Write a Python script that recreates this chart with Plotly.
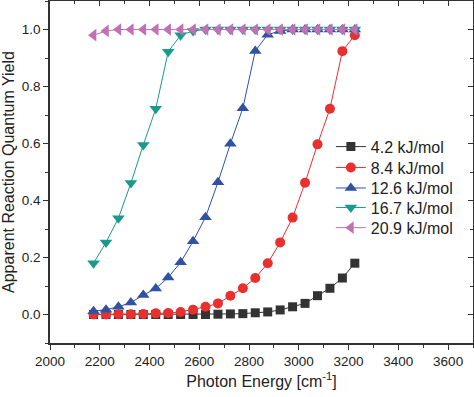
import plotly.graph_objects as go

energy = [2175, 2225, 2275, 2325, 2375, 2425, 2475, 2525, 2575, 2625, 2675,
          2725, 2775, 2825, 2875, 2925, 2975, 3025, 3075, 3125, 3175, 3225]

y_42 = [0.0, 0.0, 0.0, 0.0, 0.0, 0.0, 0.0, 0.0, 0.0, 0.0, 0.001,
        0.002, 0.003, 0.006, 0.009, 0.016, 0.027, 0.039, 0.066, 0.092, 0.128, 0.18]
y_84 = [0.0, 0.0, 0.001, 0.001, 0.002, 0.004, 0.005, 0.009, 0.017, 0.027, 0.039,
        0.066, 0.092, 0.128, 0.18, 0.253, 0.34, 0.462, 0.597, 0.722, 0.924, 0.98]
y_126 = [0.011, 0.017, 0.027, 0.042, 0.068, 0.091, 0.13, 0.183, 0.257, 0.341, 0.464,
         0.599, 0.724, 0.925, 0.982, 0.995, 1.0, 1.0, 1.0, 1.0, 1.0, 1.0]
y_167 = [0.18, 0.253, 0.338, 0.461, 0.595, 0.722, 0.922, 0.98, 0.995, 1.0, 1.0,
         1.0, 1.0, 1.0, 1.0, 1.0, 1.0, 1.0, 1.0, 1.0, 1.0, 1.0]
y_209 = [0.98, 0.995, 1.0, 1.0, 1.0, 1.0, 1.0, 1.0, 1.0, 1.0, 1.0,
         1.0, 1.0, 1.0, 1.0, 1.0, 1.0, 1.0, 1.0, 1.0, 1.0, 1.0]

series_names = ["4.2 kJ/mol", "8.4 kJ/mol", "12.6 kJ/mol", "16.7 kJ/mol", "20.9 kJ/mol"]
series_vals = [y_42, y_84, y_126, y_167, y_209]
colors = ["#333333", "#e8302e", "#2f52a3", "#1a9a8c", "#c36fb5"]
symbols = ["square", "circle", "triangle-up", "triangle-down", "triangle-left"]
sizes = [9, 10, 11, 11, 11]

x_ticks = [2000, 2200, 2400, 2600, 2800, 3000, 3200, 3400, 3600]
y_ticks = [0.0, 0.2, 0.4, 0.6, 0.8, 1.0]

font_family = "Liberation Sans, Arial, sans-serif"
axcol = "#333333"

legend_ids = ["legend", "legend2", "legend3", "legend4", "legend5"]
legend_rows = [0.574, 0.513, 0.453, 0.396, 0.337]

fig = go.Figure()
for name, vals, c, s, sz, lid in zip(series_names, series_vals, colors, symbols, sizes, legend_ids):
    fig.add_trace(go.Scatter(
        x=energy, y=vals, name=name, mode="lines+markers",
        line=dict(color=c, width=1),
        marker=dict(symbol=s, size=sz, color=c, line=dict(width=0)),
        legend=lid,
    ))

# dummy trace for the mirrored (inside-tick) top/right axes
fig.add_trace(go.Scatter(x=[None], y=[None], xaxis="x2", yaxis="y2",
                         showlegend=False, hoverinfo="skip"))

legend_layout = {}
for lid, ly in zip(legend_ids, legend_rows):
    legend_layout[lid] = dict(x=0.664, y=ly, xanchor="left", yanchor="middle",
                              bgcolor="rgba(0,0,0,0)", borderwidth=0,
                              font=dict(size=16, family=font_family, color="#222222"),
                              itemwidth=30)

fig.update_layout(
    width=474, height=397,
    margin=dict(l=50, r=1, t=1, b=54, autoexpand=False),
    paper_bgcolor="white", plot_bgcolor="white",
    font=dict(family=font_family, color="#222222", size=14),
    showlegend=True,
    xaxis=dict(range=[2000, 3700], tickmode="array", tickvals=x_ticks,
               ticktext=[str(v) for v in x_ticks],
               ticks="outside", ticklen=5, tickwidth=1.2, tickcolor=axcol,
               minor=dict(dtick=100, ticks="outside", ticklen=3, tickwidth=1.2, tickcolor=axcol),
               showline=True, linecolor=axcol, linewidth=1.5, showgrid=False, zeroline=False,
               tickfont=dict(size=13.5),
               title=dict(text="Photon Energy [cm<sup>-1</sup>]", font=dict(size=16), standoff=8)),
    yaxis=dict(range=[-0.1, 1.1], tickmode="array", tickvals=y_ticks,
               ticktext=["%.1f" % v for v in y_ticks],
               ticks="outside", ticklen=5, tickwidth=1.2, tickcolor=axcol,
               minor=dict(dtick=0.1, ticks="outside", ticklen=3, tickwidth=1.2, tickcolor=axcol),
               showline=True, linecolor=axcol, linewidth=1.5, showgrid=False, zeroline=False,
               tickfont=dict(size=13.5),
               title=dict(text="Apparent Reaction Quantum Yield", font=dict(size=16), standoff=4)),
    xaxis2=dict(range=[2000, 3700], overlaying="x", side="top", anchor="y",
                tickvals=x_ticks, showticklabels=False,
                ticks="inside", ticklen=5, tickwidth=1.2, tickcolor=axcol,
                minor=dict(dtick=100, ticks="inside", ticklen=3, tickwidth=1.2, tickcolor=axcol),
                showline=True, linecolor=axcol, linewidth=1.5, showgrid=False, zeroline=False),
    yaxis2=dict(range=[-0.1, 1.1], overlaying="y", side="right", anchor="x",
                tickvals=y_ticks, showticklabels=False,
                ticks="inside", ticklen=5, tickwidth=1.2, tickcolor=axcol,
                minor=dict(dtick=0.1, ticks="inside", ticklen=3, tickwidth=1.2, tickcolor=axcol),
                showline=True, linecolor=axcol, linewidth=1.5, showgrid=False, zeroline=False),
    **legend_layout,
)

fig.write_html("out.html", config={"displayModeBar": False},
               post_script="document.body.style.margin='0';document.body.style.overflow='hidden';")
